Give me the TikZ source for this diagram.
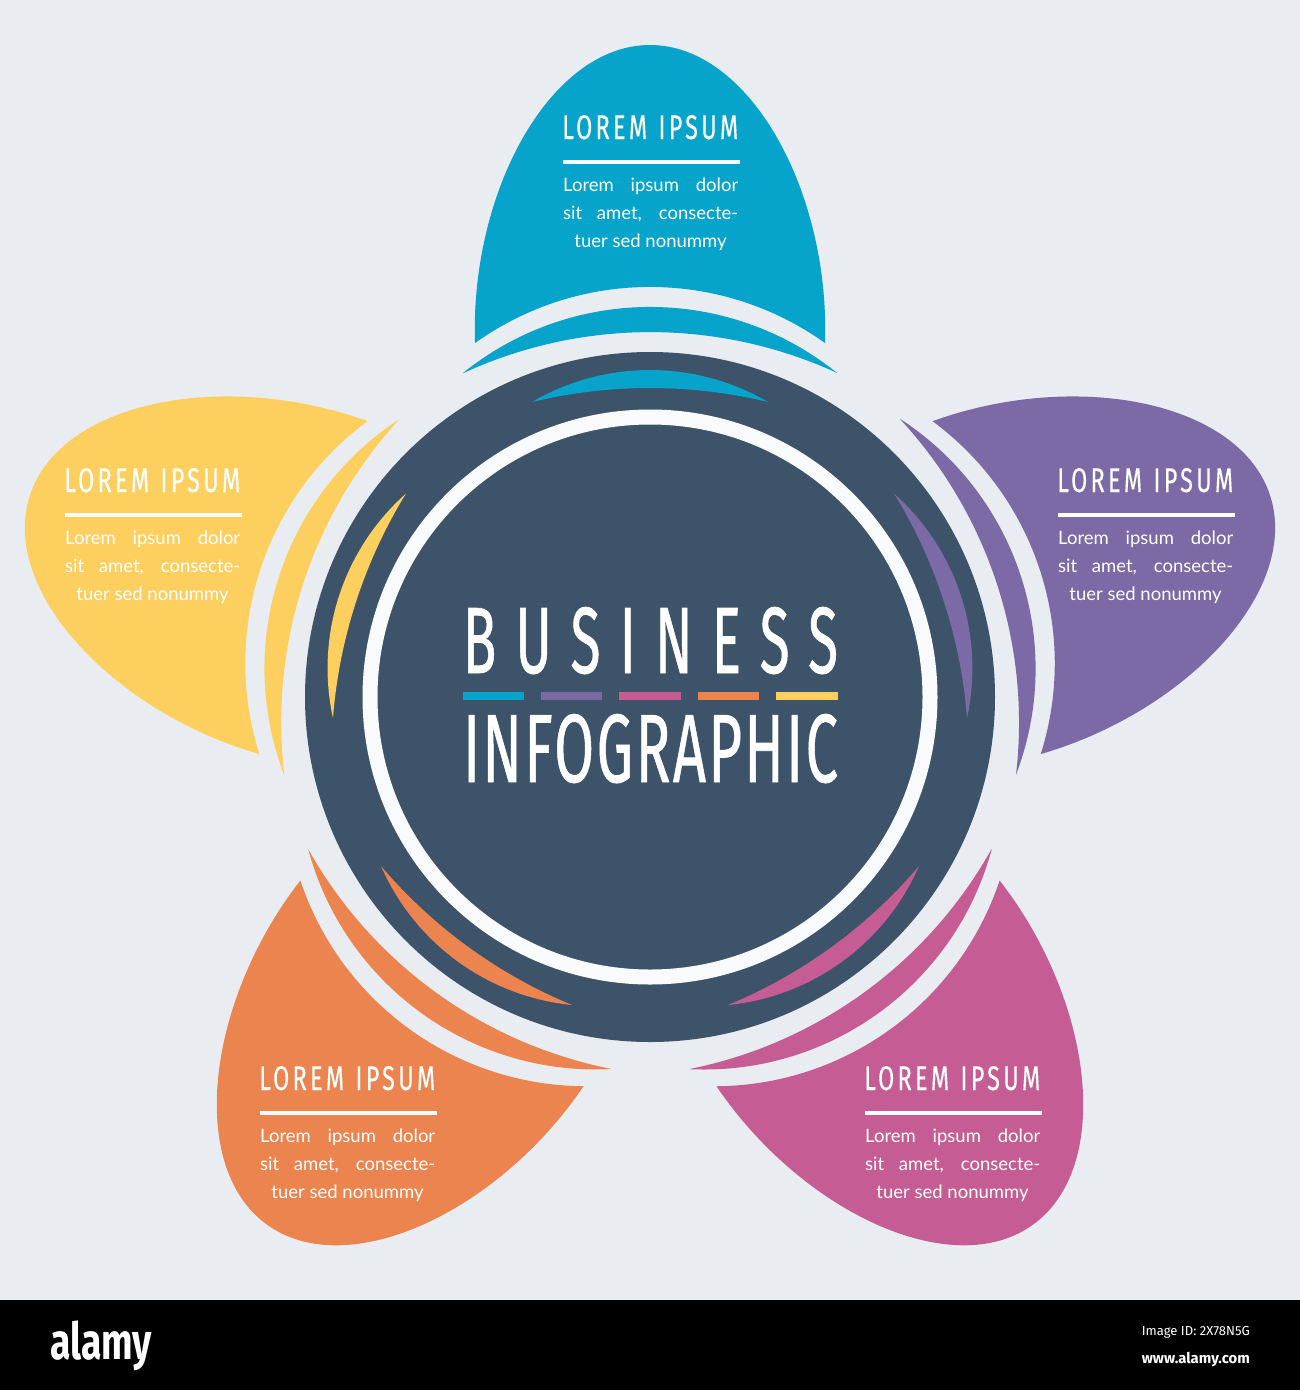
\documentclass[tikz,border=0pt]{standalone}
\usepackage{fontspec}
\usepackage{graphicx}
\setmainfont{Lato}
\newfontfamily\headfont{Fira Sans}[LetterSpace=14, FakeBold=0.4]
\newfontfamily\bizfont{Fira Sans}[LetterSpace=35, FakeBold=0.8]
\newfontfamily\infofont{Fira Sans}[LetterSpace=4, FakeBold=0.8]
\newfontfamily\bodyfont{Lato}
\newfontfamily\logofont{Fira Sans}
\definecolor{bgc}{HTML}{E9ECF0}
\definecolor{darkc}{HTML}{3D5369}
\definecolor{ringc}{HTML}{F8FAFB}
\definecolor{bluec}{HTML}{06A3CA}
\definecolor{purplec}{HTML}{7B6AA6}
\definecolor{pinkc}{HTML}{C55D94}
\definecolor{orangec}{HTML}{EB844F}
\definecolor{yellowc}{HTML}{FDCF5F}
\tikzset{
  headtxt/.style={inner sep=0pt, text=white},
  bodytxt/.style={inner sep=0pt, text=white, font=\bodyfont\fontsize{18.5}{22}\selectfont},
  titletxt/.style={inner sep=0pt, text=white},
  barbox/.style={inner sep=0pt, minimum width=61.5pt, minimum height=8pt},
}
\newcommand\petalgroup[2]{%
  \begin{scope}[shift={(650,-697)}, rotate=#1]
    \fill[#2] (-175,354) .. controls (-180,505) and (-100,652) .. (0,652)
       .. controls (100,652) and (180,505) .. (175,354)
       arc[start angle=54.46, end angle=125.54, radius=301] -- cycle;
    \fill[#2] (-187,324) arc[start angle=128.9, end angle=51.1, radius=297.9]
       arc[start angle=65.3, end angle=114.7, radius=447] -- cycle;
    \fill[#2] (-118,295) arc[start angle=120.34, end angle=59.66, radius=233.6]
       arc[start angle=76.46, end angle=103.54, radius=504] -- cycle;
  \end{scope}}
\newcommand\infoblock[3]{%
  \node[headtxt, anchor=base west] (#1-head) at (#2, -#3) {\resizebox{176pt}{24pt}{\headfont LOREM \hspace{0.08em}IPSUM}};
  \node[fill=white, inner sep=0pt, minimum width=177pt, minimum height=4pt, anchor=north west] (#1-rule) at (#2+1, -#3-21) {};
  \node[bodytxt, anchor=base west] (#1-l1) at (#2+1, -#3-52) {\makebox[175pt][s]{Lorem ipsum dolor}};
  \node[bodytxt, anchor=base west] (#1-l2) at (#2+1, -#3-80) {\makebox[175pt][s]{sit amet, consecte-}};
  \node[bodytxt, anchor=base] (#1-l3) at (#2+88.5, -#3-108) {tuer sed nonummy};
}
\begin{document}
\begin{tikzpicture}[x=1pt, y=1pt]
  \useasboundingbox (0,0) rectangle (1300,-1390);
  \fill[bgc] (0,0) rectangle (1300,-1390);
  % central disc
  \fill[darkc] (650,-697) circle[radius=345];
  % petals
  \petalgroup{0}{bluec}
  \petalgroup{-72}{purplec}
  \petalgroup{-144}{pinkc}
  \petalgroup{144}{orangec}
  \petalgroup{72}{yellowc}
  % white ring
  \draw[ringc, line width=15] (650,-697) circle[radius=280];
  % title
  \node[titletxt, anchor=base] (biz) at (650.5,-673) {\resizebox{375pt}{66pt}{\bizfont BUSINESS}};
  \node[titletxt, anchor=base] (info) at (650.5,-782) {\resizebox{375pt}{68pt}{\infofont INFOGRAPHIC}};
  \node[barbox, fill=bluec, anchor=north west] (bar1) at (462.5,-692) {};
  \node[barbox, fill=purplec, anchor=north west] (bar2) at (540.7,-692) {};
  \node[barbox, fill=pinkc, anchor=north west] (bar3) at (619,-692) {};
  \node[barbox, fill=orangec, anchor=north west] (bar4) at (697.7,-692) {};
  \node[barbox, fill=yellowc, anchor=north west] (bar5) at (776,-692) {};
  % text blocks
  \infoblock{top}{562}{139}
  \infoblock{yel}{64}{492}
  \infoblock{pur}{1057}{492}
  \infoblock{ora}{259}{1090}
  \infoblock{pin}{864}{1090}
  % footer
  \fill[black] (0,-1300) rectangle (1300,-1390);
  \node[inner sep=0pt, text=white, anchor=west] (logo) at (50,-1346) {\resizebox*{102pt}{50pt}{\logofont\bfseries alamy}};
  \node[inner sep=0pt, text=white, anchor=east] (imgid) at (1250,-1332) {\resizebox{108pt}{!}{\logofont Image ID: 2X78N5G}};
  \node[inner sep=0pt, text=white, anchor=east] (url) at (1250,-1359) {\resizebox{108pt}{!}{\logofont\bfseries www.alamy.com}};
\end{tikzpicture}
\end{document}
